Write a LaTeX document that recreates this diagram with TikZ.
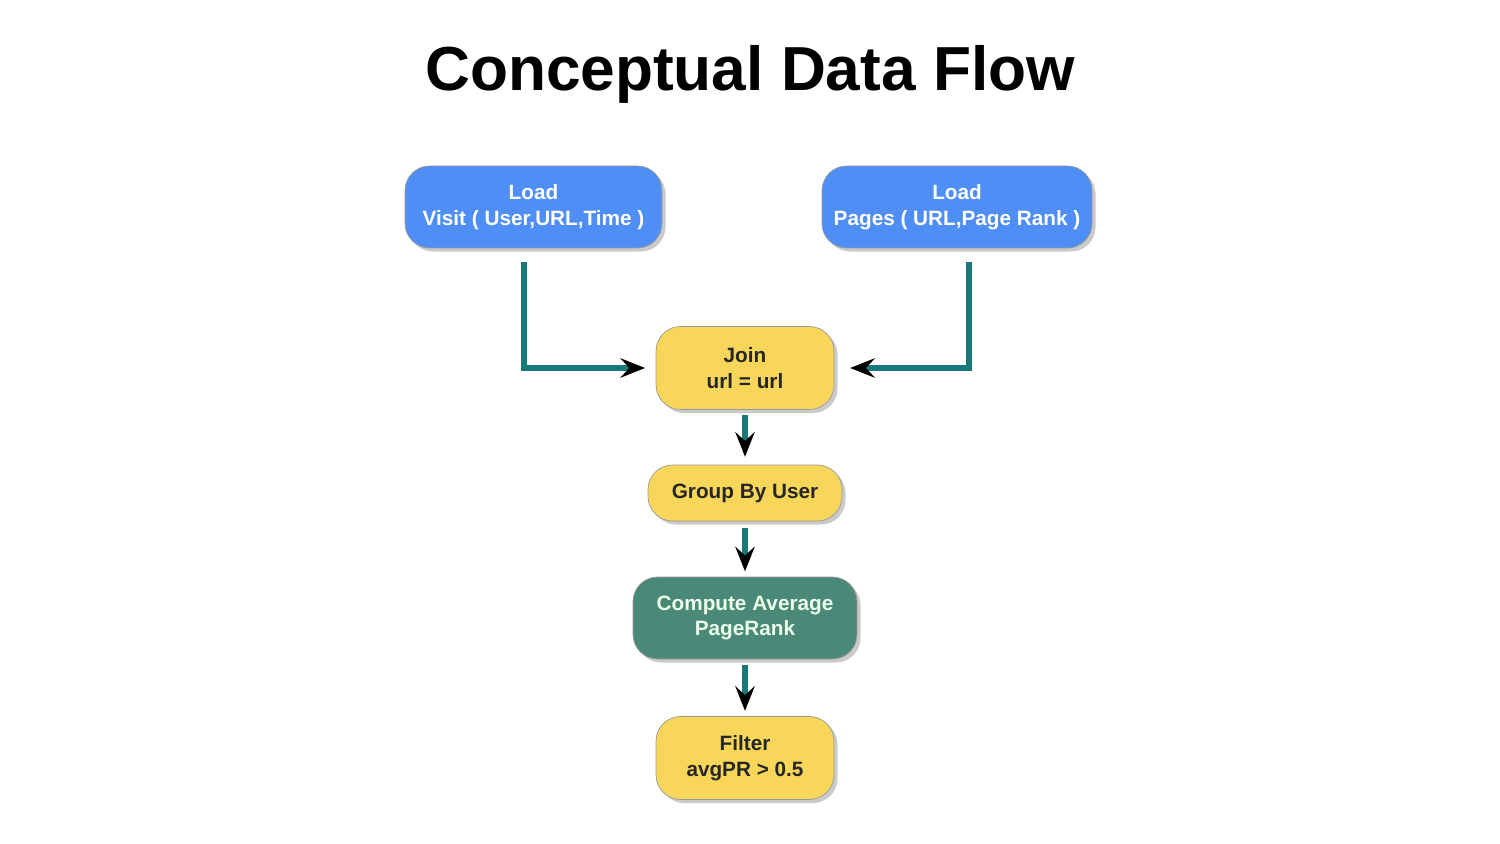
\documentclass[tikz,border=0pt]{standalone}
\usepackage{fontspec}
\setmainfont{Liberation Sans}
\usetikzlibrary{arrows.meta,shadows,positioning}
\definecolor{boxblue}{HTML}{4E8EF5}
\definecolor{boxyellow}{HTML}{F8D659}
\definecolor{boxgreen}{HTML}{4A8977}
\definecolor{flowteal}{HTML}{17797A}
\definecolor{edgegray}{HTML}{9A9A9A}
\tikzset{
  box/.style={rounded corners=14pt, draw=edgegray, line width=0.4pt, align=center,
    font=\fontsize{11.8}{14.5}\selectfont\bfseries, inner sep=0pt,
    drop shadow={shadow xshift=2pt, shadow yshift=-2pt, fill=black!35, opacity=0.6}},
  bluebox/.style={box, fill=boxblue, text=white},
  yellowbox/.style={box, fill=boxyellow, text=black!85},
  greenbox/.style={box, fill=boxgreen, text=white!92!green},
  flow/.style={draw=flowteal, line width=3.3pt,
    -{Stealth[black, length=14pt, width=11pt, inset=5pt]}},
}
\begin{document}
\begin{tikzpicture}[x=0.02cm, y=-0.02cm]
\useasboundingbox (0,0) rectangle (1500,844);
\node[font=\fontsize{35.4}{42}\selectfont\bfseries] (title) at (750,74) {Conceptual Data Flow};
\node[bluebox, minimum width=257*0.02cm, minimum height=82*0.02cm] (visit) at (533.5,207) {Load\\Visit ( User,URL,Time )};
\node[bluebox, minimum width=270*0.02cm, minimum height=82*0.02cm] (pages) at (957,207) {Load\\Pages ( URL,Page Rank )};
\node[yellowbox, minimum width=178*0.02cm, minimum height=83*0.02cm] (join) at (745,368) {Join\\url = url};
\node[yellowbox, minimum width=194*0.02cm, minimum height=56*0.02cm] (group) at (745,493) {Group By User};
\node[greenbox, minimum width=224*0.02cm, minimum height=82*0.02cm] (compute) at (745,618) {Compute Average\\PageRank};
\node[yellowbox, minimum width=178*0.02cm, minimum height=83*0.02cm] (filter) at (745,758) {Filter\\avgPR > 0.5};
\coordinate (vstart) at (524,262);
\coordinate (pstart) at (969,262);
\draw[flow, shorten >=6pt] (vstart) |- (join.west);
\draw[flow, shorten >=9pt] (pstart) |- (join.east);
\draw[flow, shorten <=3pt, shorten >=4.5pt] (join.south) -- (group.north);
\draw[flow, shorten <=4pt, shorten >=3pt] (group.south) -- (compute.north);
\draw[flow, shorten <=3.4pt, shorten >=3pt] (compute.south) -- (filter.north);
\end{tikzpicture}
\end{document}
